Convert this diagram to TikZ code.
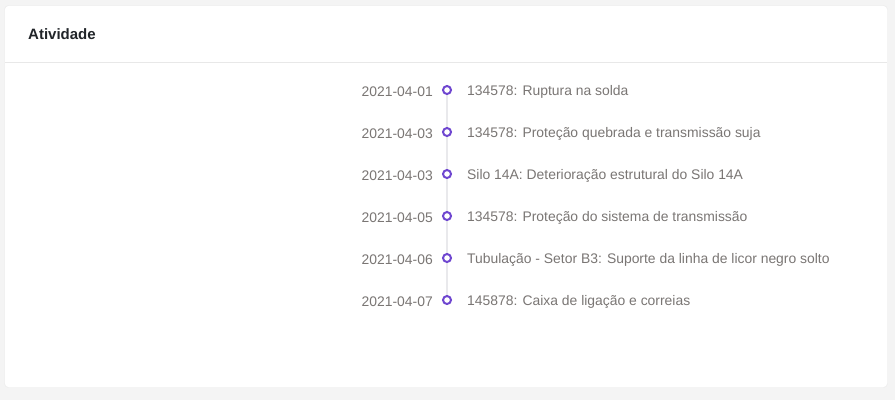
\documentclass[tikz,border=0pt]{standalone}
\usepackage{fontspec}
\setmainfont{Liberation Sans}
\definecolor{pagebg}{HTML}{F4F4F4}
\definecolor{cardborder}{HTML}{E8E8E8}
\definecolor{titlecol}{HTML}{212529}
\definecolor{textcol}{HTML}{7A7674}
\definecolor{dotcol}{HTML}{6F47D0}
\definecolor{linecol}{HTML}{E9E9EC}
\begin{document}
\begin{tikzpicture}[x=1pt,y=-1pt,
  datelbl/.style={anchor=east,inner sep=0pt,text=textcol,font=\fontsize{13.9}{17}\selectfont},
  itemlbl/.style={anchor=west,inner sep=0pt,text=textcol,font=\fontsize{13.9}{17}\selectfont},
  dotnode/.style={circle,draw=dotcol,line width=2pt,fill=white,minimum size=8pt,inner sep=0pt}]
\fill[pagebg] (0,0) rectangle (895,400);
\useasboundingbox (0,0) rectangle (895,400);
\draw[cardborder,fill=white,rounded corners=4pt] (4.5,5.5) rectangle (887.5,387.5);
\node[anchor=west,inner sep=0pt,text=titlecol,font=\fontsize{15}{18}\selectfont\bfseries] (title) at (28,34) {Atividade};
\coordinate (sepL) at (5,62.5);
\coordinate (sepR) at (887,62.5);
\draw[cardborder,line width=1pt] (sepL) -- (sepR);
\coordinate (lineTop) at (447,90);
\coordinate (lineBot) at (447,300);
\draw[linecol,line width=2pt] (lineTop) -- (lineBot);
\foreach \i/\y/\d/\t in {1/90/2021-04-01/134578: Ruptura na solda,
  2/132/2021-04-03/134578: Proteção quebrada e transmissão suja,
  3/174/2021-04-03/Silo 14A: Deterioração estrutural do Silo 14A,
  4/216/2021-04-05/134578: Proteção do sistema de transmissão,
  5/258/2021-04-06/Tubulação - Setor B3: Suporte da linha de licor negro solto,
  6/300/2021-04-07/145878: Caixa de ligação e correias} {
  \node[dotnode] (dot\i) at (447,\y) {};
  \node[datelbl] (date\i) at (433,\y+1.5) {\d};
  \node[itemlbl] (item\i) at (467,\y+1.5) {\t};
}
\end{tikzpicture}
\end{document}
